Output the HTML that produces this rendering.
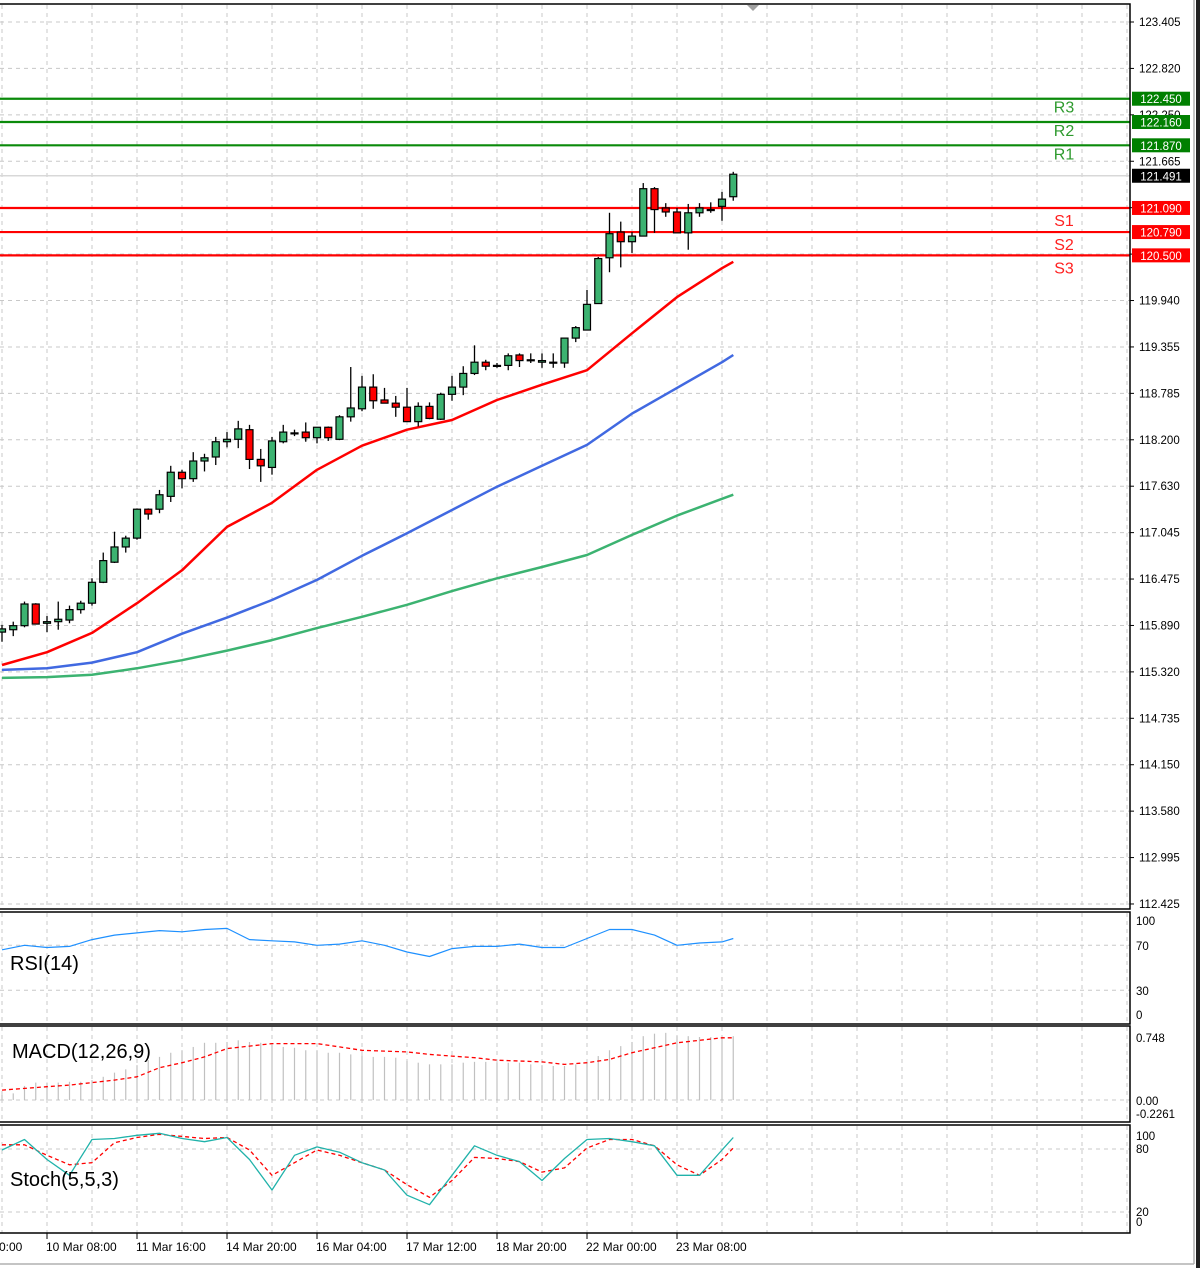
<!DOCTYPE html>
<html><head><meta charset="utf-8"><style>
html,body{margin:0;padding:0;background:#fff;}
svg{display:block;font-family:"Liberation Sans",Arial,sans-serif;}
</style></head><body>
<svg id="chart" width="1200" height="1268" viewBox="0 0 1200 1268" xmlns="http://www.w3.org/2000/svg">
<rect x="0" y="0" width="1200" height="1268" fill="#ffffff"/>
<g id="grid"></g>
<g id="levels"></g>
<g id="mas"></g>
<g id="candles"></g>
<g id="ind"></g>
<g id="frames"></g>
<g id="axes"></g>
</svg>
<script>
// ---- data ----
const openP  = [115.81,115.84,115.89,116.16,115.92,115.94,115.96,116.09,116.17,116.43,116.68,116.87,116.98,117.34,117.34,117.50,117.80,117.72,117.94,117.99,118.18,118.21,118.33,117.96,117.86,118.18,118.28,118.30,118.23,118.36,118.21,118.49,118.59,118.86,118.70,118.66,118.61,118.43,118.62,118.46,118.77,118.86,119.03,119.17,119.12,119.13,119.26,119.19,119.17,119.16,119.16,119.47,119.57,119.90,120.47,120.79,120.67,120.74,121.33,121.09,121.04,120.78,121.03,121.06,121.11,121.23];
const highP  = [115.90,115.94,116.19,116.17,116.01,116.19,116.14,116.20,116.48,116.80,117.06,117.01,117.35,117.35,117.58,117.88,117.83,118.05,118.03,118.24,118.30,118.44,118.39,118.09,118.24,118.39,118.33,118.42,118.36,118.37,118.51,119.11,119.00,119.02,118.85,118.75,118.85,118.67,118.67,118.79,119.00,119.12,119.38,119.20,119.16,119.28,119.28,119.28,119.28,119.28,119.47,119.62,120.07,120.48,121.03,120.92,120.79,121.40,121.35,121.15,121.09,121.14,121.15,121.16,121.29,121.54];
const lowP   = [115.69,115.76,115.87,115.91,115.81,115.84,115.92,116.04,116.14,116.42,116.67,116.80,116.96,117.21,117.29,117.43,117.60,117.68,117.81,117.89,118.11,118.10,117.84,117.68,117.77,118.16,118.25,118.18,118.16,118.19,118.20,118.43,118.56,118.59,118.66,118.49,118.43,118.37,118.46,118.45,118.69,118.76,119.01,119.07,119.10,119.07,119.11,119.16,119.10,119.10,119.10,119.42,119.57,119.90,120.29,120.35,120.53,120.74,120.78,120.98,120.78,120.57,120.98,121.03,120.93,121.18];
const closeP = [115.85,115.89,116.16,115.91,115.94,115.97,116.09,116.17,116.43,116.70,116.87,116.98,117.34,117.28,117.52,117.80,117.72,117.94,117.98,118.18,118.21,118.34,117.96,117.88,118.19,118.30,118.29,118.23,118.36,118.23,118.49,118.60,118.86,118.69,118.66,118.61,118.43,118.62,118.47,118.77,118.86,119.03,119.17,119.12,119.13,119.25,119.19,119.20,119.19,119.17,119.47,119.60,119.89,120.46,120.77,120.67,120.74,121.33,121.07,121.04,120.78,121.03,121.09,121.07,121.20,121.51];
const maIdx  = [0,4,8,12,16,20,24,28,32,36,40,44,48,52,56,60,64,65];
const maRed  = [115.40,115.56,115.80,116.17,116.58,117.12,117.42,117.83,118.13,118.33,118.45,118.70,118.89,119.07,119.53,119.98,120.34,120.42];
const maBlue = [115.34,115.36,115.43,115.56,115.79,115.99,116.21,116.46,116.76,117.04,117.33,117.62,117.88,118.14,118.53,118.85,119.17,119.26];
const maGreen= [115.24,115.25,115.28,115.36,115.46,115.58,115.71,115.86,116.00,116.15,116.32,116.48,116.62,116.77,117.02,117.26,117.47,117.52];
const indIdx = [0,2,4,6,8,10,12,14,16,18,20,22,24,26,28,30,32,34,36,38,40,42,44,46,48,50,52,54,56,58,60,62,64,65];
const rsiVals = [66,70,68,69,75,79,81,83,82,84,85,75,74,73,70,71,74,70,64,60,67,69,69,71,68,68,76,84,84,79,70,72,73,76];
const macdHist = [0.06,0.08,0.17,0.21,0.21,0.21,0.22,0.22,0.24,0.28,0.33,0.37,0.42,0.48,0.52,0.57,0.60,0.64,0.69,0.69,0.70,0.72,0.70,0.69,0.66,0.64,0.63,0.60,0.60,0.57,0.57,0.55,0.54,0.52,0.52,0.51,0.47,0.45,0.43,0.43,0.43,0.45,0.46,0.46,0.45,0.45,0.45,0.43,0.42,0.41,0.41,0.43,0.46,0.53,0.60,0.65,0.70,0.77,0.80,0.81,0.77,0.77,0.76,0.76,0.76,0.77];
const macdSignal = [0.12,0.14,0.16,0.18,0.21,0.24,0.28,0.39,0.45,0.52,0.62,0.65,0.68,0.68,0.68,0.64,0.60,0.59,0.58,0.55,0.53,0.51,0.48,0.47,0.46,0.43,0.45,0.49,0.57,0.63,0.69,0.72,0.75,0.75];
const stochK = [79,89,70,55,89,90,93,95,90,87,91,70,41,74,82,77,67,60,36,27,55,83,74,68,50,71,89,90,87,83,55,55,79,91];
const stochD = [84,84,74,65,67,86,91,94,92,90,91,79,55,67,79,74,67,60,46,34,50,72,71,68,58,62,81,89,89,83,65,55,70,81];
const priceTicks = ["123.405","122.820","122.250","121.665","121.080","120.505","119.940","119.355","118.785","118.200","117.630","117.045","116.475","115.890","115.320","114.735","114.150","113.580","112.995","112.425"];
const timeLabels = ["0:00","10 Mar 08:00","11 Mar 16:00","14 Mar 20:00","16 Mar 04:00","17 Mar 12:00","18 Mar 20:00","22 Mar 00:00","23 Mar 08:00"];
const levelNames = ["R3","R2","R1","S1","S2","S3"];
const levelVals  = [122.450,122.160,121.870,121.090,120.790,120.500];
const lastPrice = 121.491;

// ---- scales ----
const NS="http://www.w3.org/2000/svg";
const X=i=>2+11.25*i;
const PY=p=>22+(123.405-p)*80.33;
const RY=v=>1024-1.125*v;
const MY=v=>1100-82.9*v;
const SY=v=>1233-1.05*v;
const RIGHT=1130;
function mk(parent,tag,attrs,text){const e=document.createElementNS(NS,tag);for(const k in attrs)e.setAttribute(k,attrs[k]);if(text!==undefined)e.textContent=text;document.getElementById(parent).appendChild(e);return e;}
const panels=[[5,909],[913,1024],[1027,1122],[1126,1233]];

// grid
for(let k=0;k<26;k++){const x=2+45*k;if(x>RIGHT-2)break;
  for(const [t,b] of panels){const l=mk('grid','line',{x1:x,x2:x,y1:t,y2:b,stroke:'#c8c8c8','stroke-dasharray':'4,4'});
  
  }}
priceTicks.forEach((t,k)=>{const y=22+46.42*k;const l=mk('grid','line',{x1:0,x2:RIGHT,y1:y,y2:y,stroke:'#c8c8c8','stroke-dasharray':'4,4'});
  
  });
[[RY(70)],[RY(30)],[MY(0)],[SY(80)],[SY(20)]].forEach(([y])=>{const l=mk('grid','line',{x1:0,x2:RIGHT,y1:y,y2:y,stroke:'#c8c8c8','stroke-dasharray':'4,4'});
  
  });
{const l=mk('grid','line',{x1:0,x2:RIGHT,y1:PY(lastPrice),y2:PY(lastPrice),stroke:'#d8d8d8','stroke-width':1.5});

}

// levels
levelVals.forEach((v,k)=>{const isR=levelNames[k][0]==='R';const col=isR?'#0a8a0a':'#ff0000';const y=PY(v);
  const l=mk('levels','line',{x1:0,x2:RIGHT,y1:y,y2:y,stroke:col,'stroke-width':2.2});
  
  
  const t=mk('levels','text',{x:1064,y:y+(isR?14:18),'text-anchor':'middle','font-size':16,fill:isR?'#2e9a2e':'#ff2020'},levelNames[k]);
  
  
});

// MAs
function line(parent,idx,vals,yf,col,w,dash,name){const d=idx.map((i,k)=>(k?'L':'M')+X(i).toFixed(1)+','+yf(vals[k]).toFixed(1)).join(' ');
  const p=mk(parent,'path',{d:d,fill:'none',stroke:col,'stroke-width':w,'stroke-linejoin':'round'});if(dash)p.setAttribute('stroke-dasharray',dash);
  
  }
line('mas',maIdx,maGreen,PY,'#3cb371',2.5,null,'ma-green');
line('mas',maIdx,maBlue,PY,'#4169e1',2.5,null,'ma-blue');
line('mas',maIdx,maRed,PY,'#ff0000',2.5,null,'ma-red');

// candles
openP.forEach((o,i)=>{const c=closeP[i],x=X(i);
  const w=mk('candles','line',{x1:x,x2:x,y1:PY(highP[i]),y2:PY(lowP[i]),stroke:'#000','stroke-width':1.3});
  
  
  const top=PY(Math.max(o,c)),bot=PY(Math.min(o,c));const h=Math.max(1,bot-top);
  const r=mk('candles','rect',{x:x-3.5,y:top,width:7,height:h,fill:c>=o?'#3cb371':'#ff0000',stroke:'#000','stroke-width':1.2});
  
  });

// RSI
line('ind',indIdx,rsiVals,RY,'#1e90ff',1.2,null,'rsi-line');
// MACD
macdHist.forEach((v,i)=>{const l=mk('ind','line',{x1:X(i),x2:X(i),y1:MY(0),y2:MY(v),stroke:'#c0c0c0','stroke-width':1.2});
  
  });
line('ind',indIdx,macdSignal,MY,'#ff0000',1.3,'4,3','macd-signal');
// Stoch
line('ind',indIdx,stochD,SY,'#ff0000',1.3,'4,3','stoch-d');
line('ind',indIdx,stochK,SY,'#20b2aa',1.3,null,'stoch-k');

// frames
panels.forEach(([t,b],k)=>{const r=mk('frames','rect',{x:-1,y:t-1,width:RIGHT+1,height:b-t+1,fill:'none',stroke:'#000','stroke-width':1.5});
  
  });
{const r=mk('frames','line',{x1:1194,x2:1194,y1:0,y2:1264,stroke:'#b0b0b0','stroke-width':1.5});}
{const r=mk('frames','rect',{x:1196,y:0,width:4,height:1268,fill:'#202020'});}
{const r=mk('frames','line',{x1:0,x2:1194,y1:1264,y2:1264,stroke:'#b0b0b0','stroke-width':1.5});}
{const r=mk('frames','path',{d:'M747,5 L759,5 L753,11 Z',fill:'#a0a0a0'});}

// axes
priceTicks.forEach((t,k)=>{const y=22+46.42*k;
  mk('axes','line',{x1:RIGHT,x2:RIGHT+4,y1:y,y2:y,stroke:'#000'});
  const tx=mk('axes','text',{x:1139,y:y+4,'font-size':11.5,fill:'#000'},t);
  
  });
levelVals.forEach((v,k)=>{const isR=levelNames[k][0]==='R';const y=PY(v);
  const r=mk('axes','rect',{x:1132,y:y-7,width:58,height:14,fill:isR?'#008000':'#ff0000'});
  
  
  mk('axes','text',{x:1161,y:y+4.5,'font-size':11.5,fill:'#fff','text-anchor':'middle'},v.toFixed(3));});
{const y=PY(lastPrice);const r=mk('axes','rect',{x:1132,y:y-7,width:58,height:14,fill:'#000'});


mk('axes','text',{x:1161,y:y+4.5,'font-size':11.5,fill:'#fff','text-anchor':'middle'},lastPrice.toFixed(3));}
[[921,'100'],[946,'70'],[991,'30'],[1015,'0'],[1038,'0.748'],[1101,'0.00'],[1114,'-0.2261'],[1136,'100'],[1149,'80'],[1212,'20'],[1222,'0']].forEach(([y,t])=>{
  const tx=mk('axes','text',{x:1136,y:y+4,'font-size':11.5,fill:'#000'},t);
  
  });
timeLabels.forEach((t,k)=>{const x=47+90*(k-1);
  if(k>0) mk('axes','line',{x1:x,x2:x,y1:1233,y2:1239,stroke:'#000'});
  const tx=mk('axes','text',{x:k===0?-1:x-1,y:1251,'font-size':12,fill:'#000'},t);
  
  });
[['RSI(14)',10,970],['MACD(12,26,9)',12,1058],['Stoch(5,5,3)',10,1186]].forEach(([t,x,y])=>{
  const tx=mk('axes','text',{x:x,y:y,'font-size':20,fill:'#000'},t);
  
  });
</script>
</body></html>
